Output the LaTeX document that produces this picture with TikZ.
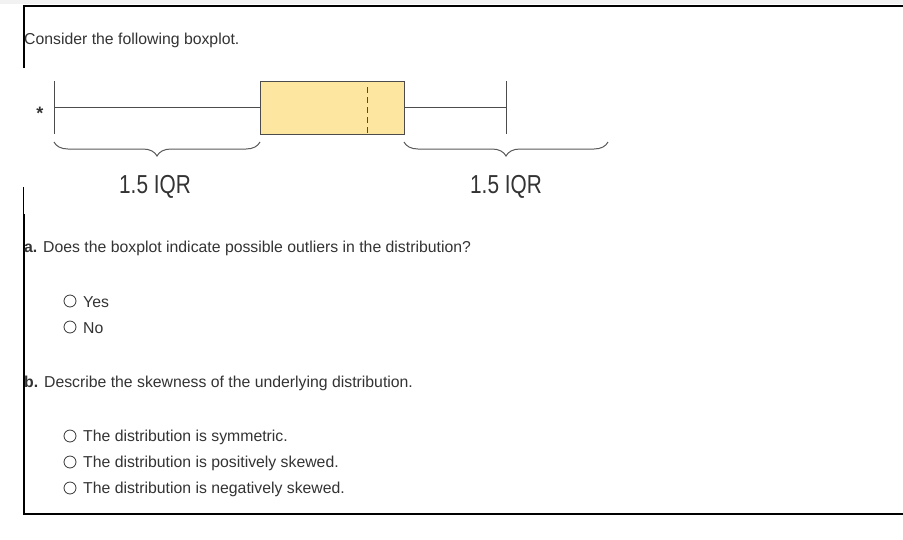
\documentclass[tikz,border=0pt]{standalone}
\usepackage{fontspec}
\setmainfont{Liberation Sans}
\usetikzlibrary{decorations.pathreplacing}
\definecolor{boxfill}{HTML}{FDE6A0}
\definecolor{txt}{HTML}{333333}
\begin{document}
\begin{tikzpicture}[x=1pt,y=-1pt,
  body/.style={anchor=west,inner sep=0pt,text=txt,font=\fontsize{15.8}{18}\selectfont},
  radio/.style={circle,draw=txt,line width=0.8pt,minimum size=12pt,inner sep=0pt},
  plotline/.style={draw=black!70,line width=1pt},
  iqr/.style={inner sep=0pt,text=black!80,font=\fontsize{26}{28}\selectfont,xscale=0.8},
  bracest/.style={draw=black!65,line width=1pt,decorate,decoration={brace,mirror,amplitude=14pt}}]
\useasboundingbox (0,0) rectangle (903,539);
\fill[black!5] (0,0) rectangle (903,4);
% frame
\draw[line width=2pt] (24,68) -- (24,6) -- (903,6);
\draw[line width=2pt] (24,214) -- (24,514) -- (903,514);
\draw[line width=0.8pt] (23,187) -- (23,214);
% texts
\node[body] (t1) at (24,40) {Consider the following boxplot.};
\node[body] (qa) at (24,248) {\textbf{a.} Does the boxplot indicate possible outliers in the distribution?};
\node[radio] (ra1) at (70,301) {};
\node[body] (oa1) at (83,302) {Yes};
\node[radio] (ra2) at (70,327) {};
\node[body] (oa2) at (83,328) {No};
\node[body] (qb) at (24,383) {\textbf{b.} Describe the skewness of the underlying distribution.};
\node[radio] (rb1) at (70,436) {};
\node[body] (ob1) at (83,437) {The distribution is symmetric.};
\node[radio] (rb2) at (70,462) {};
\node[body] (ob2) at (83,463) {The distribution is positively skewed.};
\node[radio] (rb3) at (70,488) {};
\node[body] (ob3) at (83,489) {The distribution is negatively skewed.};
% boxplot
\node[inner sep=0pt,text=black!80,font=\bfseries\fontsize{18}{18}\selectfont] (star) at (40,113) {*};
\draw[plotline] (54,81) -- (54,134);
\draw[plotline] (506,81) -- (506,134);
\draw[plotline] (54,107) -- (260,107);
\draw[plotline] (404,107) -- (506,107);
\filldraw[fill=boxfill,draw=black!70,line width=1pt] (260,81) rectangle (404,134);
\draw[black!70,line width=0.8pt,dash pattern=on 6pt off 4pt] (367,87) -- (367,134);
\draw[bracest] (54,142) -- (260,142);
\draw[bracest] (404,142) -- (608,142);
\node[iqr] (l1) at (155,187) {1.5 IQR};
\node[iqr] (l2) at (506,187) {1.5 IQR};
\end{tikzpicture}
\end{document}
